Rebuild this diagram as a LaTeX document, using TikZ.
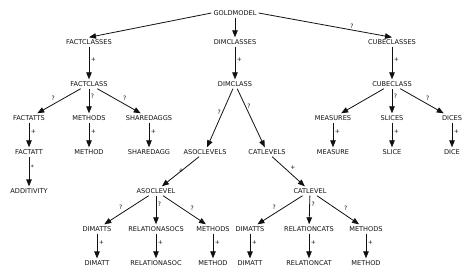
\documentclass[tikz,border=0pt]{standalone}
\usepackage{fontspec}
\usetikzlibrary{arrows.meta}
\newfontfamily\treefont{DejaVu Sans}
\definecolor{ink}{HTML}{111111}
\tikzset{
  elem/.style={font=\treefont\fontsize{6.6}{7}\selectfont, text=ink, inner sep=2pt},
  link/.style={-{Triangle[length=7pt,width=5.5pt]}, line width=0.8pt, draw=ink},
  card/.style={font=\treefont\fontsize{6}{7}\selectfont, text=ink, inner sep=1.5pt},
}

\begin{document}
\begin{tikzpicture}[x=1pt,y=-1pt]
  \useasboundingbox (0,0) rectangle (474,279);
  % model and class lists
  \node[elem] (gold) at (235,13) {GOLDMODEL};
  \node[elem] (fcs) at (89,42) {FACTCLASSES};
  \node[elem] (dcs) at (235,42) {DIMCLASSES};
  \node[elem] (ccs) at (392,42) {CUBECLASSES};
  \node[elem] (fc) at (89,84) {FACTCLASS};
  \node[elem] (dc) at (235,84) {DIMCLASS};
  \node[elem] (cc) at (392,84) {CUBECLASS};
  % fact and cube parts
  \node[elem] (fatts) at (29,118) {FACTATTS};
  \node[elem] (meths) at (89,118) {METHODS};
  \node[elem] (saggs) at (149,118) {SHAREDAGGS};
  \node[elem] (meas) at (333,118) {MEASURES};
  \node[elem] (slcs) at (392,118) {SLICES};
  \node[elem] (dics) at (452,118) {DICES};
  \node[elem] (fatt) at (29,152) {FACTATT};
  \node[elem] (meth) at (89,152) {METHOD};
  \node[elem] (sagg) at (149,152) {SHAREDAGG};
  \node[elem] (mea) at (333,152) {MEASURE};
  \node[elem] (slc) at (392,152) {SLICE};
  \node[elem] (dic) at (452,152) {DICE};
  \node[elem] (addv) at (29,191) {ADDITIVITY};
  % levels
  \node[elem] (alvs) at (205,152) {ASOCLEVELS};
  \node[elem] (clvs) at (267,152) {CATLEVELS};
  \node[elem] (alv) at (156,191) {ASOCLEVEL};
  \node[elem] (clv) at (310,191) {CATLEVEL};
  \node[elem] (adms) at (97,229) {DIMATTS};
  \node[elem] (rass) at (156,229) {RELATIONASOCS};
  \node[elem] (ameths) at (213,229) {METHODS};
  \node[elem] (cdms) at (250,229) {DIMATTS};
  \node[elem] (rcs) at (309,229) {RELATIONCATS};
  \node[elem] (cmeths) at (366,229) {METHODS};
  \node[elem] (adm) at (97,263) {DIMATT};
  \node[elem] (ras) at (156,263) {RELATIONASOC};
  \node[elem] (ameth) at (213,263) {METHOD};
  \node[elem] (cdm) at (250,263) {DIMATT};
  \node[elem] (rc) at (309,263) {RELATIONCAT};
  \node[elem] (cmeth) at (366,263) {METHOD};

  \draw[link] (gold.west) -- (fcs.north);
  \draw[link] (gold) -- (dcs);
  \draw[link] (gold.east) -- node[card, above, pos=.7] {?} (ccs.north);
  \draw[link] (fcs) -- node[card, right, pos=.4] {+} (fc);
  \draw[link] (dcs) -- node[card, right, pos=.4] {+} (dc);
  \draw[link] (ccs) -- node[card, right, pos=.4] {+} (cc);
  \draw[link] (fc) -- node[card, above left, pos=.55] {?} (fatts);
  \draw[link] (fc) -- node[card, right, pos=.3] {?} (meths);
  \draw[link] (fc) -- node[card, above right, pos=.55] {?} (saggs);
  \draw[link] (dc) -- node[card, left, pos=.4] {?} (alvs);
  \draw[link] (dc) -- node[card, right, pos=.3] {?} (clvs);
  \draw[link] (cc) -- (meas);
  \draw[link] (cc) -- node[card, right, pos=.3] {?} (slcs);
  \draw[link] (cc) -- node[card, above right, pos=.55] {?} (dics);
  \foreach \a/\b in {fatts/fatt, meths/meth, saggs/sagg, meas/mea, slcs/slc, dics/dic,
      adms/adm, rass/ras, ameths/ameth, cdms/cdm, rcs/rc, cmeths/cmeth}
    \draw[link] (\a) -- node[card, right, pos=.35] {+} (\b);
  \draw[link] (fatt) -- node[card, right, pos=.35] {*} (addv);
  \draw[link] (alvs) -- node[card, above right, pos=.6] {+} (alv);
  \draw[link] (clvs) -- node[card, above right, pos=.5] {+} (clv);
  \draw[link] (alv) -- node[card, above left, pos=.55] {?} (adms);
  \draw[link] (alv) -- node[card, right, pos=.3] {?} (rass);
  \draw[link] (alv) -- node[card, above right, pos=.6] {?} (ameths);
  \draw[link] (clv) -- node[card, above left, pos=.55] {?} (cdms);
  \draw[link] (clv) -- node[card, right, pos=.3] {?} (rcs);
  \draw[link] (clv) -- node[card, above right, pos=.6] {?} (cmeths);
\end{tikzpicture}
\end{document}
